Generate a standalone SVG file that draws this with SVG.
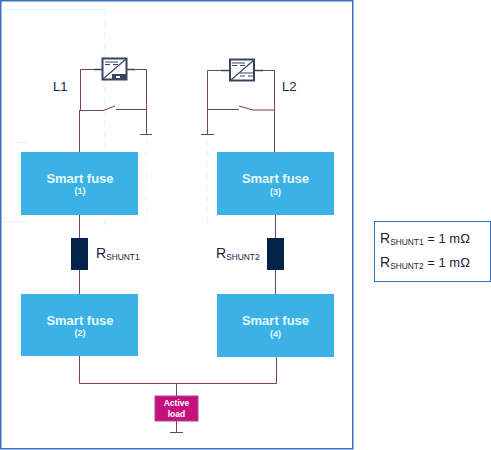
<svg xmlns="http://www.w3.org/2000/svg" width="491" height="450" viewBox="0 0 491 450">
<style>
.frame{fill:#fff;stroke:#3f6fc0;stroke-width:1.5}
.w{fill:none;stroke:#7a3f6a;stroke-width:1}
.st{fill:none;stroke:#39445f;stroke-width:1.6}
.fuse{fill:#3cb1e6}
.ft{font:bold 13px "Liberation Sans",Arial,sans-serif;fill:#e2fbff;text-anchor:middle}
.fn{font:bold 9px "Liberation Sans",Arial,sans-serif;fill:#e2fbff;text-anchor:middle}
.lb{font:13px "Liberation Sans",Arial,sans-serif;fill:#1c2340}
.lm{font-size:14px}
.sub{font-size:8.400px}
.tail{font-size:13px}
.res{fill:#03234b}
.conv{fill:#fff;stroke:#39445f;stroke-width:2}
.ci{fill:none;stroke:#39445f;stroke-width:1.2}
.ghost{fill:none;stroke:#d4fcfc;stroke-width:1}
.gd{stroke-dasharray:6 5}
.gp{fill:none;stroke:#fde6fa;stroke-width:1}
.lt{font-family:"Liberation Sans",Arial,sans-serif;font-weight:bold;font-size:8.5px;fill:#fff;text-anchor:middle}
</style>
<rect class="frame" x="0.75" y="0.75" width="352" height="448"/>
<g id="artifacts">
<path class="ghost" d="M2 9.500H104.500"/>
<path class="ghost gd" d="M104.500 10V230"/>
<path class="gp gd" d="M146.500 140V222"/>
<path class="gp" d="M3 221.500H27M15 142.500H26"/>
<path class="gp gd" d="M207.500 140V228"/>
</g>
<g id="connectors">
<path class="w" d="M94 69.500H80.500V110.500M135 69.500H146.500V135"/>
<path class="w" d="M79.500 110.500H103L115 106M116 109.500H146.500"/>
<path class="w" d="M79.500 110V152"/>
<path class="w" d="M140 134.500H152"/>
<path class="w" d="M79.500 215V238M79.500 270V294M79.500 356V383.500H276.500V357"/>
<path class="w" d="M221 70.500H207.500V134.500M263 70.500H274.500V152"/>
<path class="w" d="M207.500 109.500H239M239 106L253 110H274.500"/>
<path class="w" d="M201 134.500H214"/>
<path class="w" d="M275.500 215V238M275.500 270V294"/>
<path class="w" d="M176.500 383.500V396M176.500 421V432M170 432.500H183"/>
<path class="st" d="M94 69.500H102M127 69.500H135M221 70.500H229M255 70.500H263"/>
</g>
<g id="conv1">
<rect class="conv" x="102.500" y="58.500" width="24" height="21"/>
<path class="ci" d="M103 79L126 59M105 62H118M105 64.500H110M113 64.500H118"/>
<rect x="112" y="74" width="14" height="5" fill="#39445f"/>
<rect x="116" y="76" width="4" height="2" fill="#fff"/>
</g>
<g id="conv2">
<rect class="conv" x="230" y="59.500" width="24" height="21"/>
<path class="ci" d="M231 80L254 60M232 63H245M232 65.500H237M240 65.500H245"/>
<path class="ci" d="M240 73H253M240 76H245M248 76H253"/>
</g>
<g id="fuse1"><rect class="fuse" x="21" y="152" width="117" height="63"/><text class="ft" x="80" y="182.500">Smart fuse</text><text class="fn" x="80" y="194">(1)</text></g>
<g id="fuse2"><rect class="fuse" x="21" y="294" width="117" height="62"/><text class="ft" x="80" y="325">Smart fuse</text><text class="fn" x="80" y="336">(2)</text></g>
<g id="fuse3"><rect class="fuse" x="217" y="152" width="117" height="63"/><text class="ft" x="275.500" y="183">Smart fuse</text><text class="fn" x="275.500" y="195">(3)</text></g>
<g id="fuse4"><rect class="fuse" x="217" y="294" width="117" height="63"/><text class="ft" x="275.500" y="325">Smart fuse</text><text class="fn" x="275.500" y="337">(4)</text></g>
<g id="shunt1"><rect class="res" x="71" y="238" width="17" height="32"/></g>
<g id="shunt2"><rect class="res" x="267" y="238" width="17" height="32"/></g>
<g id="load"><rect x="155" y="396" width="43" height="25" fill="#c6107f" stroke="#a24a91"/><text class="lt" x="176.500" y="406">Active</text><text class="lt" x="176.500" y="417">load</text></g>
<g id="labels">
<text class="lb" x="53" y="90.500">L1</text>
<text class="lb" x="282" y="90.500">L2</text>
<text class="lb lm" x="96" y="258">R<tspan class="sub" dy="2">SHUNT1</tspan></text>
<text class="lb lm" x="216" y="258">R<tspan class="sub" dy="2">SHUNT2</tspan></text>
</g>
<g id="legend">
<rect x="374.500" y="221.500" width="116" height="60" fill="#fff" stroke="#2b73c4"/>
<text class="lb lm" x="380" y="243">R<tspan class="sub" dy="2">SHUNT1</tspan><tspan class="tail" dy="-2"> = 1 mΩ</tspan></text>
<text class="lb lm" x="380" y="267">R<tspan class="sub" dy="2">SHUNT2</tspan><tspan class="tail" dy="-2"> = 1 mΩ</tspan></text>
</g>
</svg>
